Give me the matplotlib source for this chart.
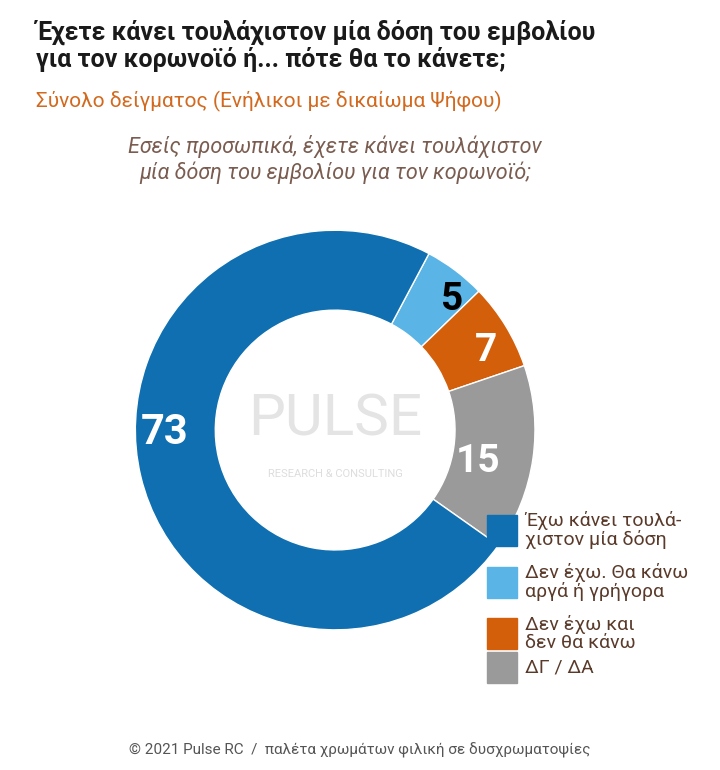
import matplotlib
matplotlib.use("Agg")
import matplotlib.pyplot as plt
from matplotlib.patches import Rectangle

plt.rcParams['font.family'] = ['Roboto', 'DejaVu Sans']

labels = ["Δεν έχω. Θα κάνω\nαργά ή γρήγορα", "Δεν έχω και\nδεν θα κάνω", "ΔΓ / ΔΑ", "Έχω κάνει τουλά-\nχιστον μία δόση"]
values = [5, 7, 15, 73]
colors = ["#5ab4e5", "#d35f0b", "#9a9a9a", "#0f6fb0"]
legend_order = [3, 0, 1, 2]

fig = plt.figure(figsize=(7.2, 7.7), dpi=100)
fig.patch.set_facecolor("white")
fig.text(0.05, 0.975, "Έχετε κάνει τουλάχιστον μία δόση του εμβολίου\nγια τον κορωνοϊό ή... πότε θα το κάνετε;",
         fontsize=18, fontweight="bold", va="top", ha="left", color="#1a1a1a", linespacing=1.1)
fig.text(0.05, 0.882, "Σύνολο δείγματος (Ενήλικοι με δικαίωμα Ψήφου)", fontsize=15, color="#d2691e", va="top")
fig.text(0.465, 0.825, "Εσείς προσωπικά, έχετε κάνει τουλάχιστον\nμία δόση του εμβολίου για τον κορωνοϊό;",
         fontsize=15.5, style="italic", color="#7a5c50", ha="center", va="top", linespacing=1.2)

ax = fig.add_axes([0.1875, 0.182, 0.556, 0.519])
ax.pie(values, colors=colors, startangle=62, counterclock=False, radius=1,
       wedgeprops=dict(width=0.4, edgecolor="white", linewidth=1.0))
ax.set_xlim(-1, 1)
ax.set_ylim(-1, 1)
ax.set_aspect("equal")
ax.axis("off")
ax.text(0.0, 0.05, "PULSE", fontsize=42, color="#e4e4e4", ha="center", va="center")
ax.text(0.0, -0.22, "RESEARCH & CONSULTING", fontsize=8, color="#dddddd", ha="center", va="center")

tf = fig.transFigure
ax.text(165/720, 1-432/770, "73", fontsize=30, fontweight="bold", color="white", ha="center", va="center", transform=tf)
ax.text(452/720, 1-300/770, "5", fontsize=28, fontweight="bold", color="black", ha="center", va="center", transform=tf)
ax.text(486/720, 1-350/770, "7", fontsize=28, fontweight="bold", color="white", ha="center", va="center", transform=tf)
ax.text(478/720, 1-462/770, "15", fontsize=28, fontweight="bold", color="white", ha="center", va="center", transform=tf)

ys = [530, 582, 633, 667]
for y, i in zip(ys, legend_order):
    fig.patches.append(Rectangle((487/720, 1-(y+16)/770), 30/720, 31/770, color=colors[i], transform=tf))
    fig.text(525/720, 1-y/770, labels[i], fontsize=14, color="#5a3a2a", va="center", ha="left", linespacing=1.0)

fig.text(0.5, 0.025, "© 2021 Pulse RC  /  παλέτα χρωμάτων φιλική σε δυσχρωματοψίες",
         fontsize=11, color="#555555", ha="center", va="center")
fig.savefig("out.png", dpi=100)
